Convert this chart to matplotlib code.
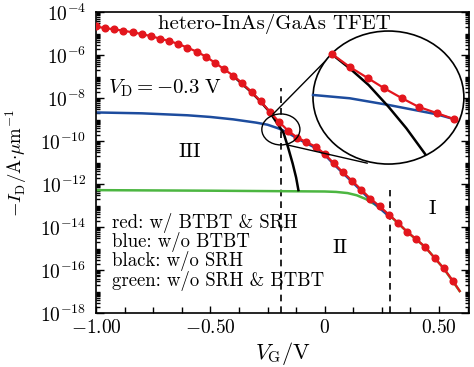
import numpy as np
import matplotlib
matplotlib.use("Agg")
import matplotlib.pyplot as plt
from matplotlib.patches import Ellipse
from matplotlib.ticker import FixedLocator, LogLocator, NullFormatter, LogFormatterSciNotation

plt.rcParams['font.family'] = 'serif'
plt.rcParams['font.serif'] = ['cmr10', 'DejaVu Serif']
plt.rcParams['mathtext.fontset'] = 'cm'
plt.rcParams['axes.unicode_minus'] = False

# ---- data (V_G in V, -I_D in A/um) ----
# red: w/ BTBT & SRH
red_v = [-1.00, -0.96, -0.92, -0.88, -0.84, -0.80, -0.76, -0.72, -0.68, -0.64,
         -0.60, -0.56, -0.52, -0.48, -0.44, -0.40, -0.36, -0.32, -0.28, -0.24,
         -0.20, -0.16, -0.12, -0.08, -0.04, 0.00, 0.04, 0.08, 0.12, 0.16,
         0.20, 0.24, 0.28, 0.32, 0.36, 0.40, 0.44, 0.48, 0.52, 0.56, 0.59]
red_i = [2.14e-5, 1.78e-5, 1.58e-5, 1.35e-5, 1.15e-5, 9.5e-6, 7.6e-6, 5.8e-6, 4.5e-6, 3.3e-6,
         2.2e-6, 1.45e-6, 8.5e-7, 4.4e-7, 2.2e-7, 1.1e-7, 4.8e-8, 1.9e-8, 7.1e-9, 2.3e-9,
         7.9e-10, 3.0e-10, 1.45e-10, 8.9e-11, 5.5e-11, 2.5e-11, 9.1e-12, 3.5e-12, 1.4e-12, 5.4e-13,
         2.1e-13, 9.3e-14, 3.8e-14, 1.6e-14, 6.0e-15, 2.75e-15, 1.15e-15, 3.7e-16, 1.2e-16, 3.2e-17, 1.05e-17]

# blue: w/o BTBT
blue_v = [-1.00, -0.80, -0.60, -0.50, -0.40, -0.30, -0.25, -0.20, -0.16, -0.12,
          -0.08, -0.04, 0.00, 0.04, 0.08, 0.12, 0.16, 0.20, 0.24, 0.28]
blue_i = [2.14e-9, 1.95e-9, 1.58e-9, 1.32e-9, 1.02e-9, 7.2e-10, 5.75e-10, 3.8e-10, 2.4e-10, 1.32e-10,
          7.9e-11, 4.8e-11, 2.3e-11, 8.3e-12, 3.2e-12, 1.26e-12, 4.8e-13, 1.8e-13, 7.6e-14, 3.2e-14]

# black: w/o SRH
black_v = [-0.40, -0.32, -0.28, -0.24, -0.22, -0.20, -0.18, -0.16, -0.14, -0.125, -0.115]
black_i = [1.07e-7, 1.86e-8, 6.8e-9, 2.2e-9, 1.05e-9, 5.0e-10, 2.4e-10, 5.0e-11, 8.9e-12, 2.0e-12, 5.2e-13]

# green: w/o SRH & BTBT
green_v = [-1.00, -0.50, 0.00, 0.05, 0.10, 0.14, 0.18, 0.22, 0.26, 0.30, 0.36, 0.44, 0.52, 0.59]
green_i = [5.2e-13, 4.9e-13, 4.5e-13, 4.3e-13, 3.8e-13, 3.0e-13, 2.0e-13, 1.12e-13, 5.5e-14,
           2.4e-14, 6.0e-15, 1.15e-15, 1.2e-16, 1.05e-17]

# magnified view (inset)
inset_red_v = [-0.240, -0.221, -0.202, -0.185, -0.166, -0.148, -0.129, -0.111]
inset_red_i = [1.42e-9, 7.9e-10, 4.8e-10, 3.07e-10, 1.95e-10, 1.31e-10, 9.95e-11, 7.6e-11]
inset_blue_v = [-0.260, -0.221, -0.180, -0.129, -0.111]
inset_blue_i = [2.24e-10, 1.93e-10, 1.43e-10, 9.4e-11, 7.6e-11]
inset_black_v = [-0.240, -0.221, -0.201, -0.180, -0.161, -0.141]
inset_black_i = [1.40e-9, 7.4e-10, 3.5e-10, 1.32e-10, 5.0e-11, 1.56e-11]

# region boundaries (dashed lines)
bound_v = [-0.19, 0.284]
bound_top = [3.0e-8, 5.2e-13]

legend_lines = ['red: w/ BTBT & SRH', 'blue: w/o BTBT', 'black: w/o SRH', 'green: w/o SRH & BTBT']

RED = '#e3161d'
BLUE = '#1d4c9e'
GREEN = '#4cb641'

fig = plt.figure(figsize=(4.74, 3.67), dpi=100)
ax = fig.add_axes([0.2025, 0.1471, 0.788, 0.820])

ax.plot(green_v, green_i, color=GREEN, lw=1.8, zorder=2)
ax.plot(blue_v, blue_i, color=BLUE, lw=1.8, zorder=2)
ax.plot(black_v, black_i, color='black', lw=1.8, zorder=2)
ax.plot(red_v, red_i, color=RED, lw=1.6, zorder=3)
ax.plot(red_v[:-1], red_i[:-1], 'o', color=RED, ms=4.8, zorder=3)

for v, top in zip(bound_v, bound_top):
    ax.plot([v, v], [1e-18, top], color='black', lw=1.2, ls=(0, (4, 3)), zorder=1)

ax.set_yscale('log')
ax.set_xlim(-1.0, 0.633)
ax.set_ylim(1e-18, 1e-4)

ax.set_xticks([-1.0, -0.5, 0.0, 0.5])
ax.set_xticklabels([r'$-1.00$', r'$-0.50$', r'$0$', r'$0.50$'])
ax.set_xticks(np.arange(-1.0, 0.64, 0.125), minor=True)
ax.yaxis.set_major_locator(FixedLocator(10.0 ** np.arange(-18, -3, 2)))
ax.yaxis.set_major_formatter(LogFormatterSciNotation())
ax.yaxis.set_minor_locator(LogLocator(base=10, subs=np.arange(1, 10), numticks=100))
ax.yaxis.set_minor_formatter(NullFormatter())

ax.tick_params(axis='both', which='both', direction='in', labelsize=14, width=1.0)
ax.tick_params(axis='x', which='major', length=5, pad=4)
ax.tick_params(axis='x', which='minor', length=4)
ax.tick_params(axis='y', which='major', length=6, pad=7, right=True)
ax.tick_params(axis='y', which='minor', length=3, right=True)
for s in ax.spines.values():
    s.set_linewidth(1.2)

ax.text(-0.214, 0.5, r'$-I_{\rm D}/{\rm A}{\cdot}\mu{\rm m}^{-1}$', transform=ax.transAxes,
        rotation=90, ha='center', va='center', fontsize=13.5)
ax.text(0.5, -0.135, r'$V_{\rm G}/{\rm V}$', transform=ax.transAxes,
        ha='center', va='center', fontsize=16)

ax.text(0.478, 0.962, 'hetero-InAs/GaAs TFET', transform=ax.transAxes,
        ha='center', va='center', fontsize=15)
ax.text(0.032, 0.748, r'$V_{\rm D}=-0.3\ {\rm V}$', transform=ax.transAxes,
        ha='left', va='center', fontsize=15)
ax.text(0.250, 0.535, 'III', transform=ax.transAxes, ha='center', va='center', fontsize=15)
ax.text(0.653, 0.216, 'II', transform=ax.transAxes, ha='center', va='center', fontsize=15)
ax.text(0.900, 0.346, 'I', transform=ax.transAxes, ha='center', va='center', fontsize=15)
for k, line in enumerate(legend_lines):
    ax.text(0.043, 0.300 - k * 0.0643, line, transform=ax.transAxes,
            ha='left', va='center', fontsize=13.5)

# zoom markers
ax.add_patch(Ellipse((0.495, 0.610), 0.102, 0.103, transform=ax.transAxes,
                     fill=False, ec='black', lw=1.0, zorder=4))
ax.plot([0.474, 0.632], [0.661, 0.860], color='black', lw=1.0, transform=ax.transAxes, zorder=4)
ax.plot([0.514, 0.726], [0.558, 0.498], color='black', lw=1.0, transform=ax.transAxes, zorder=4)
ax.add_patch(Ellipse((0.783, 0.716), 0.404, 0.442, transform=ax.transAxes,
                     fc='white', ec='black', lw=1.2, zorder=4))

axin = ax.inset_axes([0.581, 0.495, 0.404, 0.442])
axin.set_yscale('log')
axin.set_xlim(-0.26, -0.10)
axin.set_ylim(10 ** -11.0, 10 ** -8.4)
axin.axis('off')
axin.plot(inset_blue_v, inset_blue_i, color=BLUE, lw=1.8, clip_on=False)
axin.plot(inset_black_v, inset_black_i, color='black', lw=1.8, clip_on=False)
axin.plot(inset_red_v, inset_red_i, '-o', color=RED, lw=1.6, ms=4.8, clip_on=False)

fig.savefig('out.png', dpi=100)
